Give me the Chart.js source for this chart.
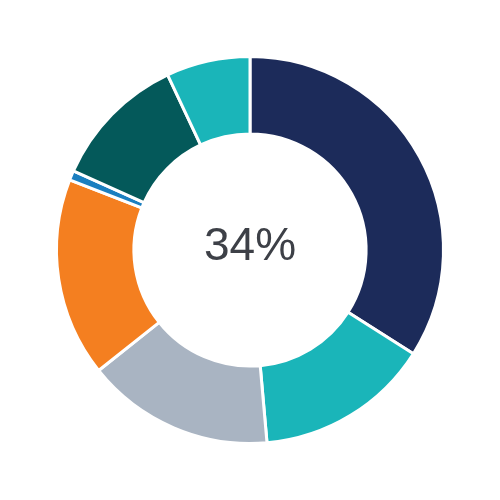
<!DOCTYPE html>
<html>
<head>
<meta charset="utf-8">
<script src="https://cdn.jsdelivr.net/npm/chart.js"></script>
<style>
  html, body { margin: 0; padding: 0; background: #fff; }
  #wrap { width: 500px; height: 500px; }
</style>
</head>
<body>
<div id="wrap"><canvas id="mycanvas"></canvas></div>
<script>
var labels = ['A', 'B', 'C', 'D', 'E', 'F', 'G'];
var values = [34, 14.6, 15.7, 16.6, 0.8, 11.3, 7];
var colors = ['#1c2b5a', '#1ab5b9', '#a9b4c2', '#f47f20', '#1b7fc0', '#04595a', '#1ab5b9'];
var centerText = '34%';

var centerLabel = {
    id: 'centerLabel',
    afterDraw: function(chart) {
        var ctx = chart.ctx;
        var meta = chart.getDatasetMeta(0);
        if (!meta.data.length) return;
        var x = meta.data[0].x, y = meta.data[0].y;
        ctx.save();
        ctx.font = '46px "Liberation Sans", Arial, sans-serif';
        ctx.fillStyle = '#3d4047';
        ctx.textAlign = 'center';
        ctx.textBaseline = 'middle';
        ctx.fillText(centerText, x, y - 3);
        ctx.restore();
    }
};

var ctx = document.getElementById('mycanvas');
new Chart(ctx, {
    type: 'doughnut',
    data: {
        labels: labels,
        datasets: [{
            data: values,
            backgroundColor: colors,
            borderColor: '#ffffff',
            borderWidth: 3
        }]
    },
    options: {
        responsive: true,
        maintainAspectRatio: false,
        animation: false,
        cutout: '60%',
        layout: { padding: 55 },
        plugins: {
            legend: { display: false },
            tooltip: { enabled: false }
        }
    },
    plugins: [centerLabel]
});
</script>
</body>
</html>
